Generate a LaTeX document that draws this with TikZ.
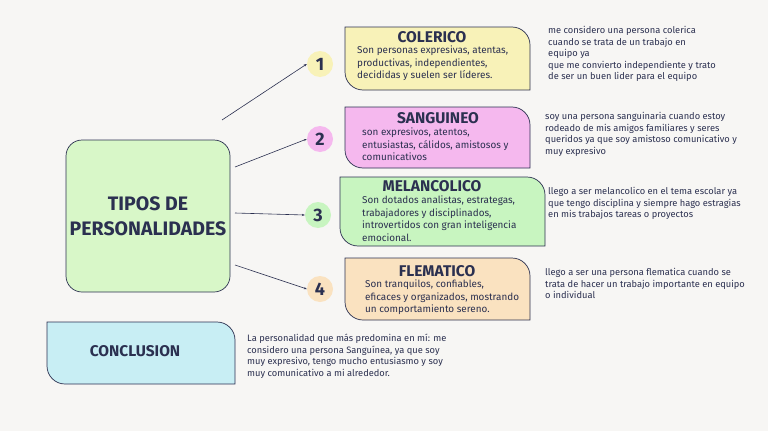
\documentclass[tikz,border=0pt]{standalone}
\usepackage{fontspec}
\usetikzlibrary{arrows.meta}
\setmainfont{Fira Sans}
\definecolor{ink}{HTML}{2B3050}
\definecolor{bg}{HTML}{F7F6F4}
\definecolor{cy}{HTML}{F8F2B8}
\definecolor{cp}{HTML}{F5B8EE}
\definecolor{cg}{HTML}{C8F5C0}
\definecolor{co}{HTML}{FAE2C0}
\definecolor{cb}{HTML}{C8EEF4}
\definecolor{cm}{HTML}{D8F7C8}
\tikzset{
  title/.style={font=\bfseries\fontsize{15.5}{16}\selectfont,text=ink,inner sep=1pt},
  body/.style={font=\fontsize{9.9}{12.4}\selectfont,text=ink,align=left,anchor=north west,inner sep=0pt},
  side/.style={font=\fontsize{9.3}{11.6}\selectfont,text=ink,align=left,anchor=north west,inner sep=0pt},
  num/.style={circle,minimum size=26pt,font=\bfseries\fontsize{18}{18}\selectfont,text=ink},
  conn/.style={draw=ink,-{Stealth[length=3pt]},line width=0.6pt},
  leaf/.style={draw=ink,line width=0.7pt}
}
\newcommand{\leafbox}[5]{% x1 y1 x2 y2 fill
  \filldraw[leaf,fill=#5] (#1,#2) -- ({#3-18},#2) arc[start angle=90,end angle=0,radius=18pt] -- (#3,#4) -- ({#1+18},#4) arc[start angle=270,end angle=180,radius=18pt] -- cycle;}
\begin{document}
\begin{tikzpicture}[x=1pt,y=-1pt]
\useasboundingbox[fill=bg] (0,0) rectangle (768,431);
% main
\node[draw=ink,line width=0.7pt,fill=cm,rounded corners=16pt,minimum width=164pt,minimum height=152pt,align=center,font=\bfseries\fontsize{19.5}{25}\selectfont,text=ink] (main) at (148,216) {TIPOS DE\\PERSONALIDADES};
% boxes
\leafbox{345}{27}{530}{90}{cy}
\leafbox{345}{107}{530}{168}{cp}
\leafbox{340}{177}{545}{246}{cg}
\leafbox{345}{258}{530}{320}{co}
\leafbox{47}{322}{235}{384}{cb}
\node[title] (t1) at (432,37) {COLERICO};
\node[body] (b1) at (357,46) {Son personas expresivas, atentas,\\productivas, independientes,\\decididas y suelen ser líderes.};
\node[title] (t2) at (438,118) {SANGUINEO};
\node[body] (b2) at (362,128) {son expresivos, atentos,\\entusiastas, cálidos, amistosos y\\comunicativos};
\node[title] (t3) at (432,186) {MELANCOLICO};
\node[body] (b3) at (362,196) {Son dotados analistas, estrategas,\\trabajadores y disciplinados,\\introvertidos con gran inteligencia\\emocional.};
\node[title] (t4) at (437,271) {FLEMATICO};
\node[body] (b4) at (365,280) {Son tranquilos, confiables,\\eficaces y organizados, mostrando\\un comportamiento sereno.};
\node[title] (tc) at (135,351) {CONCLUSION};
% numbers
\node[num,fill=cy] (n1) at (320,64) {1};
\node[num,fill=cp] (n2) at (320,139) {2};
\node[num,fill=cg] (n3) at (318,215) {3};
\node[num,fill=co] (n4) at (320,289) {4};
\coordinate (s1) at (222,120);
\coordinate (s2) at (235,167);
\coordinate (s3) at (235,213);
\coordinate (s4) at (235,265);
\draw[conn] (s1) -- (n1.west);
\draw[conn] (s2) -- (n2.west);
\draw[conn] (s3) -- (n3.west);
\draw[conn] (s4) -- (n4.west);
% side texts
\node[side] (r1) at (548,26) {me considero una persona colerica\\cuando se trata de un trabajo en\\equipo ya\\que me convierto independiente y trato\\de ser un buen lider para el equipo};
\node[side] (r2) at (545,112) {soy una persona sanguinaria cuando estoy\\rodeado de mis amigos familiares y seres\\queridos ya que soy amistoso comunicativo y\\muy expresivo};
\node[side] (r3) at (548,187) {llego a ser melancolico en el tema escolar ya\\que tengo disciplina y siempre hago estragias\\en mis trabajos tareas o proyectos};
\node[side] (r4) at (545,268) {llego a ser una persona flematica cuando se\\trata de hacer un trabajo importante en equipo\\o individual};
\node[side] (rc) at (247,334) {La personalidad que más predomina en mí: me\\considero una persona Sanguínea, ya que soy\\muy expresivo, tengo mucho entusiasmo y soy\\muy comunicativo a mi alrededor.};
\end{tikzpicture}
\end{document}
